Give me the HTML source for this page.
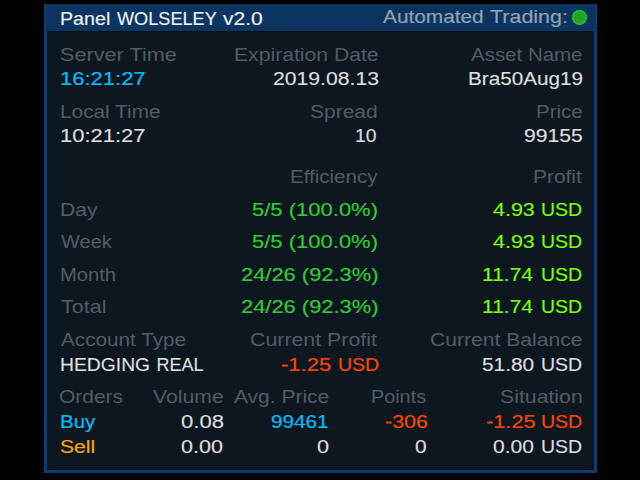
<!DOCTYPE html>
<html><head><meta charset="utf-8"><style>
html,body{margin:0;padding:0;background:#000;width:640px;height:480px;overflow:hidden}
.panel{position:absolute;left:44px;top:4px;width:553px;height:469px;background:#0c3c70}
.hdr{position:absolute;left:46px;top:6px;width:549px;height:25px;background:#0b3560}
.body{position:absolute;left:47px;top:31px;width:547px;height:439px;background:#0a0f15}
.inner{position:absolute;left:48px;top:32px;width:545px;height:437px;background:#0d1720}
.topl{position:absolute;left:46px;top:4px;width:549px;height:1px;background:#08284a}
.dot{position:absolute;left:571.8px;top:10px;width:15.4px;height:15.2px;border-radius:50%;background:#23a323;box-shadow:inset 0 0 0 1.6px #2cb92c}
.t{position:absolute;font:18px/18px "Liberation Sans",sans-serif;white-space:pre;transform-origin:0 0;-webkit-text-stroke:0.15px currentColor}
</style></head><body>
<div class="panel"></div><div class="hdr"></div><div class="body"></div><div class="inner"></div><div class="topl"></div>
<div class="dot"></div>
<div class="t" style="left:60.21px;top:10.00px;color:#f0f0f0;transform:scaleX(1.0932)">Panel</div>
<div class="t" style="left:117.20px;top:10.00px;color:#f0f0f0;transform:scaleX(1.0071)">WOLSELEY</div>
<div class="t" style="left:222.80px;top:10.00px;color:#f0f0f0;transform:scaleX(1.1676)">v2.0</div>
<div class="t" style="left:382.80px;top:8.00px;color:#95a2b0;transform:scaleX(1.1558)">Automated</div>
<div class="t" style="left:490.00px;top:8.00px;color:#95a2b0;transform:scaleX(1.1922)">Trading:</div>
<div class="t" style="left:59.60px;top:46.00px;color:#525c67;transform:scaleX(1.2042);-webkit-text-stroke:0">Server Time</div>
<div class="t" style="left:234.02px;top:46.00px;color:#525c67;transform:scaleX(1.1752);-webkit-text-stroke:0">Expiration Date</div>
<div class="t" style="left:471.00px;top:46.00px;color:#525c67;transform:scaleX(1.1371);-webkit-text-stroke:0">Asset Name</div>
<div class="t" style="left:60.08px;top:70.00px;color:#00bfff;transform:scaleX(1.2221)">16:21:27</div>
<div class="t" style="left:272.82px;top:70.00px;color:#dedede;transform:scaleX(1.1761)">2019.08.13</div>
<div class="t" style="left:467.65px;top:70.00px;color:#dedede;transform:scaleX(1.1480)">Bra50Aug19</div>
<div class="t" style="left:59.64px;top:103.00px;color:#525c67;transform:scaleX(1.1553);-webkit-text-stroke:0">Local Time</div>
<div class="t" style="left:310.33px;top:103.00px;color:#525c67;transform:scaleX(1.1661);-webkit-text-stroke:0">Spread</div>
<div class="t" style="left:535.76px;top:103.00px;color:#525c67;transform:scaleX(1.1359);-webkit-text-stroke:0">Price</div>
<div class="t" style="left:60.08px;top:127.00px;color:#dedede;transform:scaleX(1.2191)">10:21:27</div>
<div class="t" style="left:355.43px;top:127.00px;color:#dedede;transform:scaleX(1.0684)">10</div>
<div class="t" style="left:523.62px;top:127.00px;color:#dedede;transform:scaleX(1.1750)">99155</div>
<div class="t" style="left:289.66px;top:168.00px;color:#525c67;transform:scaleX(1.1395);-webkit-text-stroke:0">Efficiency</div>
<div class="t" style="left:532.64px;top:168.00px;color:#525c67;transform:scaleX(1.1610);-webkit-text-stroke:0">Profit</div>
<div class="t" style="left:59.63px;top:201.00px;color:#525c67;transform:scaleX(1.1710);-webkit-text-stroke:0">Day</div>
<div class="t" style="left:252.28px;top:201.00px;color:#32cd32;transform:scaleX(1.2228)">5/5 (100.0%)</div>
<div class="t" style="left:493.20px;top:201.00px;color:#7cfc00;transform:scaleX(1.1912)">4.93</div>
<div class="t" style="left:541.02px;top:201.00px;color:#7cfc00;transform:scaleX(1.0806)">USD</div>
<div class="t" style="left:60.80px;top:233.00px;color:#525c67;transform:scaleX(1.1130);-webkit-text-stroke:0">Week</div>
<div class="t" style="left:252.28px;top:233.00px;color:#32cd32;transform:scaleX(1.2228)">5/5 (100.0%)</div>
<div class="t" style="left:493.20px;top:233.00px;color:#7cfc00;transform:scaleX(1.1912)">4.93</div>
<div class="t" style="left:541.02px;top:233.00px;color:#7cfc00;transform:scaleX(1.0806)">USD</div>
<div class="t" style="left:59.68px;top:265.50px;color:#525c67;transform:scaleX(1.1208);-webkit-text-stroke:0">Month</div>
<div class="t" style="left:240.78px;top:265.50px;color:#32cd32;transform:scaleX(1.2162)">24/26 (92.3%)</div>
<div class="t" style="left:482.33px;top:265.50px;color:#7cfc00;transform:scaleX(1.1674)">11.74</div>
<div class="t" style="left:541.02px;top:265.50px;color:#7cfc00;transform:scaleX(1.0806)">USD</div>
<div class="t" style="left:60.80px;top:298.00px;color:#525c67;transform:scaleX(1.1946);-webkit-text-stroke:0">Total</div>
<div class="t" style="left:240.78px;top:298.00px;color:#32cd32;transform:scaleX(1.2162)">24/26 (92.3%)</div>
<div class="t" style="left:482.33px;top:298.00px;color:#7cfc00;transform:scaleX(1.1674)">11.74</div>
<div class="t" style="left:541.02px;top:298.00px;color:#7cfc00;transform:scaleX(1.0806)">USD</div>
<div class="t" style="left:60.80px;top:331.00px;color:#525c67;transform:scaleX(1.1500);-webkit-text-stroke:0">Account Type</div>
<div class="t" style="left:250.31px;top:331.00px;color:#525c67;transform:scaleX(1.1858);-webkit-text-stroke:0">Current Profit</div>
<div class="t" style="left:429.83px;top:331.00px;color:#525c67;transform:scaleX(1.1719);-webkit-text-stroke:0">Current Balance</div>
<div class="t" style="left:59.73px;top:355.50px;color:#dedede;transform:scaleX(1.0726)">HEDGING</div>
<div class="t" style="left:156.50px;top:355.50px;color:#dedede;transform:scaleX(1.0000)">REAL</div>
<div class="t" style="left:281.38px;top:355.50px;color:#ff4500;transform:scaleX(1.2231)">-1.25</div>
<div class="t" style="left:337.62px;top:355.50px;color:#ff4500;transform:scaleX(1.0806)">USD</div>
<div class="t" style="left:481.94px;top:355.50px;color:#dedede;transform:scaleX(1.1591)">51.80</div>
<div class="t" style="left:541.42px;top:355.50px;color:#dedede;transform:scaleX(1.0806)">USD</div>
<div class="t" style="left:59.24px;top:388.00px;color:#525c67;transform:scaleX(1.1630);-webkit-text-stroke:0">Orders</div>
<div class="t" style="left:153.00px;top:388.00px;color:#525c67;transform:scaleX(1.1780);-webkit-text-stroke:0">Volume</div>
<div class="t" style="left:234.00px;top:388.00px;color:#525c67;transform:scaleX(1.1654);-webkit-text-stroke:0">Avg. Price</div>
<div class="t" style="left:371.40px;top:388.00px;color:#525c67;transform:scaleX(1.1000);-webkit-text-stroke:0">Points</div>
<div class="t" style="left:499.82px;top:388.00px;color:#525c67;transform:scaleX(1.1809);-webkit-text-stroke:0">Situation</div>
<div class="t" style="left:59.57px;top:413.00px;color:#00bfff;transform:scaleX(1.1350)">Buy</div>
<div class="t" style="left:181.27px;top:413.00px;color:#dedede;transform:scaleX(1.2273)">0.08</div>
<div class="t" style="left:271.05px;top:413.00px;color:#00bfff;transform:scaleX(1.1500)">99461</div>
<div class="t" style="left:384.61px;top:413.00px;color:#ff4500;transform:scaleX(1.1941)">-306</div>
<div class="t" style="left:485.69px;top:413.00px;color:#ff4500;transform:scaleX(1.2103)">-1.25</div>
<div class="t" style="left:541.42px;top:413.00px;color:#ff4500;transform:scaleX(1.0806)">USD</div>
<div class="t" style="left:59.53px;top:438.00px;color:#ffa500;transform:scaleX(1.1714)">Sell</div>
<div class="t" style="left:181.10px;top:438.00px;color:#dedede;transform:scaleX(1.1971)">0.00</div>
<div class="t" style="left:316.60px;top:438.00px;color:#dedede;transform:scaleX(1.2000)">0</div>
<div class="t" style="left:414.84px;top:438.00px;color:#dedede;transform:scaleX(1.1556)">0</div>
<div class="t" style="left:493.03px;top:438.00px;color:#dedede;transform:scaleX(1.1676)">0.00</div>
<div class="t" style="left:541.22px;top:438.00px;color:#dedede;transform:scaleX(1.0806)">USD</div>
</body></html>
